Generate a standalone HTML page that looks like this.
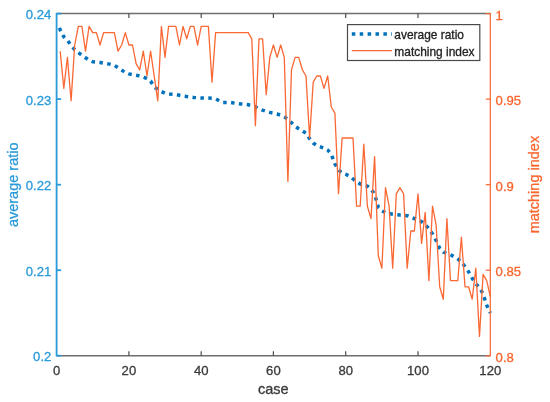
<!DOCTYPE html>
<html><head><meta charset="utf-8"><title>chart</title>
<style>
html,body{margin:0;padding:0;background:#fff;}
svg{display:block;filter:blur(0.4px);}
text{font-family:"Liberation Sans",sans-serif;font-size:13.1px;stroke-width:0.3px;}
</style></head><body>
<svg width="550" height="402" viewBox="0 0 550 402">
<rect width="550" height="402" fill="#fff"/>
<g stroke="#6e6e6e" stroke-width="1.5" fill="none">
<line x1="56.6" y1="13.6" x2="490.3" y2="13.6"/><line x1="56.6" y1="355.7" x2="490.3" y2="355.7"/>
<line x1="128.9" y1="355.7" x2="128.9" y2="351.3" stroke="#4c4c4c" stroke-width="1.2"/><line x1="128.9" y1="13.6" x2="128.9" y2="18.0" stroke="#4c4c4c" stroke-width="1.2"/>
<line x1="201.2" y1="355.7" x2="201.2" y2="351.3" stroke="#4c4c4c" stroke-width="1.2"/><line x1="201.2" y1="13.6" x2="201.2" y2="18.0" stroke="#4c4c4c" stroke-width="1.2"/>
<line x1="273.4" y1="355.7" x2="273.4" y2="351.3" stroke="#4c4c4c" stroke-width="1.2"/><line x1="273.4" y1="13.6" x2="273.4" y2="18.0" stroke="#4c4c4c" stroke-width="1.2"/>
<line x1="345.7" y1="355.7" x2="345.7" y2="351.3" stroke="#4c4c4c" stroke-width="1.2"/><line x1="345.7" y1="13.6" x2="345.7" y2="18.0" stroke="#4c4c4c" stroke-width="1.2"/>
<line x1="418.0" y1="355.7" x2="418.0" y2="351.3" stroke="#4c4c4c" stroke-width="1.2"/><line x1="418.0" y1="13.6" x2="418.0" y2="18.0" stroke="#4c4c4c" stroke-width="1.2"/>
</g>
<polyline points="59.4,27.9 60.2,29.8 63.8,36.8 67.4,40.4 71.1,45.3 74.7,49.7 78.3,52.6 81.9,55.2 85.5,57.7 89.1,60.1 92.7,61.7 96.4,62.1 100.0,62.5 103.6,63.1 107.2,63.6 110.8,64.4 114.4,65.3 118.0,67.7 121.7,70.1 125.3,72.5 128.9,73.9 132.5,74.6 136.1,75.2 139.7,75.9 143.3,77.0 147.0,78.6 150.6,81.0 154.2,87.1 157.8,89.5 161.4,91.6 165.0,93.2 168.6,94.1 172.3,94.3 175.9,94.6 179.5,95.3 183.1,96.0 186.7,96.5 190.3,96.9 193.9,97.4 197.6,97.8 201.2,98.0 204.8,98.0 208.4,98.1 212.0,98.3 215.6,98.8 219.2,100.8 222.9,102.4 226.5,102.4 230.1,102.4 233.7,103.0 237.3,103.5 240.9,103.9 244.5,104.3 248.2,104.8 251.8,105.6 255.4,106.8 259.0,108.7 262.6,110.2 266.2,111.4 269.8,112.4 273.4,113.1 277.1,114.0 280.7,115.2 284.3,116.9 287.9,119.3 291.5,122.8 295.1,126.3 298.7,128.7 302.4,130.9 306.0,133.0 309.6,138.7 313.2,143.0 316.8,145.6 320.4,146.8 324.0,148.1 327.7,150.0 331.3,154.4 334.9,163.9 338.5,169.8 342.1,173.0 345.7,174.2 349.3,176.1 353.0,178.9 356.6,181.5 360.2,184.0 363.8,185.1 367.4,186.1 371.0,188.9 374.6,194.3 378.3,207.3 381.9,210.9 385.5,212.6 389.1,213.5 392.7,214.2 396.3,214.7 399.9,215.1 403.6,215.3 407.2,215.7 410.8,217.1 414.4,218.6 418.0,220.0 421.6,221.5 425.2,224.5 428.9,228.6 432.5,233.9 436.1,240.5 439.7,248.2 443.3,252.2 446.9,253.3 450.5,254.8 454.2,256.7 457.8,259.0 461.4,261.9 465.0,266.7 468.6,271.8 472.2,278.2 475.8,283.8 479.5,287.5 483.1,294.0 486.7,305.2 490.3,313.0" fill="none" stroke="#0072bd" stroke-width="3.5" stroke-dasharray="3.5 4.4" stroke-linejoin="round"/>
<polyline points="60.2,51.2 63.8,88.4 67.4,57.4 71.1,100.8 74.7,45.0 78.3,26.4 81.9,26.4 85.5,51.2 89.1,26.4 92.7,32.6 96.4,32.6 100.0,45.0 103.6,32.6 107.2,32.6 110.8,32.6 114.4,32.6 118.0,51.2 121.7,45.0 125.3,32.6 128.9,45.0 132.5,45.0 136.1,63.6 139.7,69.8 143.3,51.2 147.0,76.0 150.6,51.2 154.2,76.0 157.8,100.8 161.4,26.4 165.0,57.4 168.6,26.4 172.3,26.4 175.9,26.4 179.5,45.0 183.1,26.4 186.7,38.8 190.3,26.4 193.9,26.4 197.6,45.0 201.2,26.4 204.8,26.4 208.4,26.4 212.0,82.2 215.6,32.6 219.2,32.6 222.9,32.6 226.5,32.6 230.1,32.6 233.7,32.6 237.3,32.6 240.9,32.6 244.5,32.6 248.2,32.6 251.8,38.8 255.4,125.6 259.0,38.8 262.6,38.8 266.2,94.6 269.8,57.4 273.4,45.0 277.1,57.4 280.7,45.0 284.3,57.4 287.9,181.4 291.5,69.8 295.1,57.4 298.7,57.4 302.4,69.8 306.0,76.0 309.6,138.0 313.2,82.2 316.8,76.0 320.4,76.0 324.0,88.4 327.7,76.0 331.3,107.0 334.9,113.2 338.5,193.8 342.1,138.0 345.7,138.0 349.3,138.0 353.0,138.0 356.6,206.2 360.2,206.2 363.8,144.2 367.4,206.2 371.0,218.6 374.6,156.6 378.3,255.8 381.9,268.2 385.5,187.6 389.1,206.2 392.7,268.2 396.3,193.8 399.9,187.6 403.6,193.8 407.2,268.2 410.8,231.0 414.4,231.0 418.0,193.8 421.6,243.4 425.2,212.4 428.9,280.6 432.5,206.2 436.1,224.8 439.7,286.8 443.3,299.2 446.9,218.6 450.5,280.6 454.2,280.6 457.8,280.6 461.4,237.2 465.0,286.8 468.6,286.8 472.2,299.2 475.8,268.2 479.5,336.4 483.1,274.4 486.7,280.6 490.3,296.7" fill="none" stroke="#fa6834" stroke-width="1.3" stroke-linejoin="round"/>
<g stroke="#2a9ad9" stroke-width="1.8" fill="none"><line x1="56.6" y1="13.0" x2="56.6" y2="356.3"/>
<line x1="56.6" y1="355.7" x2="61.1" y2="355.7"/>
<line x1="56.6" y1="270.2" x2="61.1" y2="270.2"/>
<line x1="56.6" y1="184.7" x2="61.1" y2="184.7"/>
<line x1="56.6" y1="99.1" x2="61.1" y2="99.1"/>
<line x1="56.6" y1="13.6" x2="61.1" y2="13.6"/>
</g>
<g stroke="#f9652d" stroke-width="1.2" fill="none"><line x1="490.3" y1="13.0" x2="490.3" y2="356.3"/>
<line x1="490.3" y1="355.7" x2="485.8" y2="355.7"/>
<line x1="490.3" y1="270.2" x2="485.8" y2="270.2"/>
<line x1="490.3" y1="184.7" x2="485.8" y2="184.7"/>
<line x1="490.3" y1="99.1" x2="485.8" y2="99.1"/>
<line x1="490.3" y1="13.6" x2="485.8" y2="13.6"/>
</g>
<g fill="#2a9ad9" stroke="#2a9ad9" text-anchor="end">
<text x="51.3" y="361.1">0.2</text>
<text x="51.3" y="275.6">0.21</text>
<text x="51.3" y="190.1">0.22</text>
<text x="51.3" y="104.5">0.23</text>
<text x="51.3" y="19.0">0.24</text>
</g>
<g fill="#f9652d" stroke="#f9652d">
<text x="495.6" y="361.6">0.8</text>
<text x="495.6" y="276.1">0.85</text>
<text x="495.6" y="190.6">0.9</text>
<text x="495.6" y="105.0">0.95</text>
<text x="495.6" y="19.5">1</text>
</g>
<g fill="#3a3a3a" stroke="#3a3a3a" text-anchor="middle">
<text x="56.6" y="374.8">0</text>
<text x="128.9" y="374.8">20</text>
<text x="201.2" y="374.8">40</text>
<text x="273.4" y="374.8">60</text>
<text x="345.7" y="374.8">80</text>
<text x="418.0" y="374.8">100</text>
<text x="490.3" y="374.8">120</text>
<text x="273.3" y="394.4" style="font-size:14.5px">case</text>
</g>
<text transform="translate(17.8,184.8) rotate(-90)" text-anchor="middle" fill="#2a9ad9" stroke="#2a9ad9" style="font-size:14.5px">average ratio</text>
<text transform="translate(539.4,184.6) rotate(-90)" text-anchor="middle" fill="#f9652d" stroke="#f9652d" style="font-size:14.5px">matching index</text>
<rect x="347.5" y="24.6" width="132.3" height="35.9" fill="#fff" stroke="#4a4a4a" stroke-width="1.2"/>
<line x1="351.8" y1="33.9" x2="392" y2="33.9" stroke="#0072bd" stroke-width="3.5" stroke-dasharray="3.5 4.4"/>
<line x1="351.8" y1="50.7" x2="392" y2="50.7" stroke="#fa6834" stroke-width="1.3"/>
<text x="394.3" y="39.1" fill="#222" stroke="#222" style="font-size:11.95px">average ratio</text>
<text x="394.3" y="55.6" fill="#222" stroke="#222" style="font-size:11.95px">matching index</text>
</svg></body></html>
